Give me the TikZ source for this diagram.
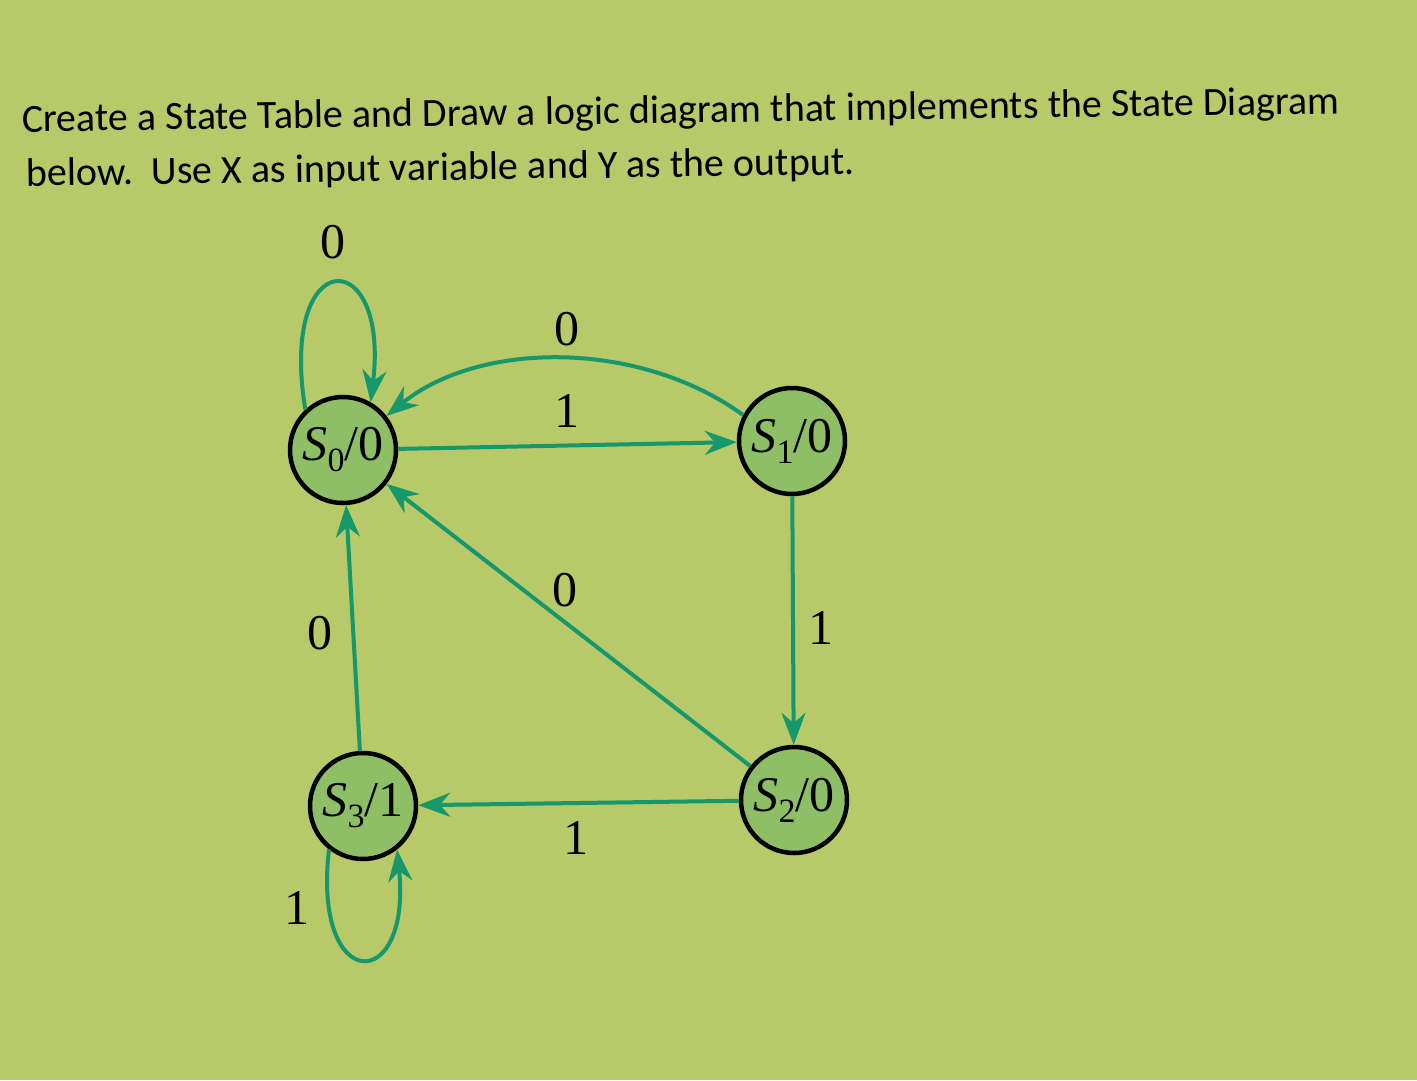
\documentclass[tikz,border=0pt]{standalone}
\usepackage{fontspec}
\setmainfont{Liberation Serif}
\newfontfamily\calibri{Carlito}
\usetikzlibrary{arrows.meta}
\definecolor{bg}{RGB}{183,201,104}
\definecolor{nodefill}{RGB}{142,190,102}
\definecolor{edgec}{RGB}{22,152,108}
\newcommand{\stname}[2]{{\itshape S}\raisebox{-0.22em}{\fontsize{34}{34}\selectfont #1}/#2}
\tikzset{
  state/.style={circle, draw=black, line width=4.5pt, fill=nodefill, minimum size=106pt, inner sep=0pt, font=\fontsize{50}{54}\selectfont},
  trans/.style={draw=edgec, line width=4pt, -{Stealth[length=32pt,width=24pt]}},
  elabel/.style={font=\fontsize{50}{54}\selectfont, inner sep=0pt},
  title/.style={font=\calibri\fontsize{40}{44}\selectfont, anchor=base west, inner sep=0pt, rotate=0.8}
}
\begin{document}
\begin{tikzpicture}[x=1pt,y=-1pt]
\fill[bg] (0,0) rectangle (1417,1080);
\useasboundingbox (0,0) rectangle (1417,1080);
\node[title] (t1) at (22,132) {Create a State Table and Draw a logic diagram that implements the State Diagram};
\node[title] (t2) at (26,186) {below.\ \ Use X as input variable and Y as the output.};

\node[state] (s0) at (343,450) {\stname{0}{0}};
\node[state] (s1) at (792,441) {\stname{1}{0}};
\node[state] (s2) at (794,800) {\stname{2}{0}};
\node[state] (s3) at (363,806) {\stname{3}{1}};

% self loops
\draw[trans] (s0.133) .. controls (278,243) and (390,243) .. (s0.60);
\draw[trans] (s3.232) .. controls (312,995) and (412,995) .. (s3.-52);
% transitions
\draw[trans] (s1.152) .. controls (640,340) and (480,340) .. (s0.38);
\draw[trans] (s0) -- (s1);
\draw[trans] (s1) -- (s2);
\draw[trans] (s2) -- (s0);
\draw[trans] (s2) -- (s3);
\draw[trans] (s3) -- (s0);

% labels
\node[elabel] (l00) at (333,242) {0};
\node[elabel] (l10) at (567,329) {0};
\node[elabel] (l01) at (567,411) {1};
\node[elabel] (l12) at (821,628) {1};
\node[elabel] (l20) at (565,590) {0};
\node[elabel] (l30) at (320,633) {0};
\node[elabel] (l23) at (576,838) {1};
\node[elabel] (l33) at (297,908) {1};
\end{tikzpicture}
\end{document}
